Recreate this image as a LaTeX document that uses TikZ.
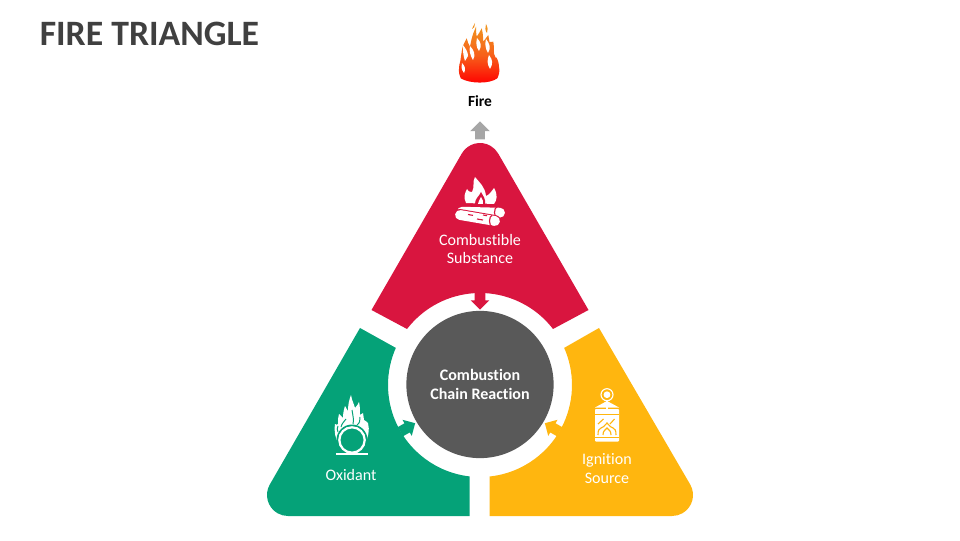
\documentclass[tikz,border=0pt]{standalone}
\usepackage{fontspec}
\setmainfont[Ligatures=NoCommon]{Carlito}
\usetikzlibrary{shapes.arrows}
\definecolor{redpart}{HTML}{D9153F}
\definecolor{greenpart}{HTML}{05A278}
\definecolor{yellowpart}{HTML}{FFB60F}
\definecolor{greypart}{HTML}{595959}
\definecolor{titlegrey}{HTML}{404040}
\definecolor{flametop}{HTML}{F0921E}
\definecolor{flamemid}{HTML}{F7601A}
\tikzset{
	label text/.style={text=white,align=center,inner sep=0pt,font=\fontsize{11.4}{13.5}\selectfont},
	blockarrow/.style={single arrow,draw=none,anchor=tip,inner xsep=0pt,inner ysep=.125cm,minimum height=.425cm,minimum width=.45cm,single arrow head extend=.1cm,single arrow tip angle=90},
}
\begin{document}
\begin{tikzpicture}[x=.025cm,y=.025cm]
	\useasboundingbox (0,0) rectangle (960,540);
	\node[anchor=base west,inner sep=0pt,text=titlegrey,font=\fontsize{25.4}{28}\selectfont\bfseries] (title) at (39.5,494) {FIRE TRIANGLE};
	% the three parts
	\fill[redpart] (371.5,230) -- (461.8,386.5) arc (150:30:21) -- (588.5,230) -- (553,211) arc (37.5:142.5:92) -- cycle;
	\fill[greenpart] (360,212) -- (269.8,55.5) arc (150:270:21) -- (469.5,24) -- (469.5,63.6) arc (263.45:156.2:92) -- cycle;
	\fill[yellowpart] (599,212) -- (690.2,55.5) arc (30:-90:21) -- (489.5,24) -- (489.5,63.5) arc (-84.07:23.8:92) -- cycle;
	\node[circle,fill=greypart,minimum size=3.68cm,inner sep=0pt,text=white,align=center,font=\fontsize{11.4}{13.5}\selectfont\bfseries] (reaction) at (480,155.5) {Combustion\\Chain Reaction};
	% block arrows
	\node[blockarrow,rotate=90,fill=black!35,inner ysep=.1125cm,minimum height=.45cm,minimum width=.475cm,single arrow head extend=.125cm] (firearrow) at (480,419) {};
	\node[blockarrow,rotate=-90,fill=redpart] (redarrow) at (480,230) {};
	\node[blockarrow,rotate=30,fill=greenpart] (greenarrow) at (415.5,117) {};
	\node[blockarrow,rotate=150,fill=yellowpart] (yellowarrow) at (544.5,117) {};
	% labels
	\node[label text] (substance) at (480,291) {Combustible\\Substance};
	\node[label text] (oxidant) at (351,65.5) {Oxidant};
	\node[label text] (source) at (607,71.5) {Ignition\\Source};
	\node[inner sep=0pt,font=\fontsize{11}{12}\selectfont\bfseries] (fire) at (480,439) {Fire};
	% fire on top
	\begin{scope}[shift={(480,485)}]
		\shade[top color=flametop,bottom color=red,middle color=flamemid] (-19.3,-23.3) .. controls (-22,-17) and (-21,-14) .. (-20.7,-10) .. controls (-19,-6) and (-19,4) .. (-16.7,10) -- (-13.3,16.7) .. controls (-13,13) and (-11,11) .. (-10,8.3) .. controls (-9,14) and (-8,18) .. (-6.7,21.7) -- (-4,28.3) .. controls (-4,24) and (-4,22) .. (-3.3,18.3) .. controls (-1,21) and (0,24) .. (1.7,26.7) .. controls (3,22) and (3,18) .. (3.3,13.3) .. controls (5,16) and (7,18) .. (8.3,20) .. controls (9,17) and (9,15) .. (9.5,13) -- (13.3,13.3) .. controls (14,9) and (14,5) .. (14,1.7) .. controls (17,-3) and (19,-7) .. (19,-11.7) .. controls (20,-16) and (19,-20) .. (17.3,-23.3) .. controls (10,-29) and (-10,-29) .. (-19.3,-23.3) -- cycle;
		\fill[flametop] (6,31) .. controls (8,27) and (8,25) .. (7,22) .. controls (5,24) and (5,28) .. (6,31) -- cycle;
		\fill[flametop] (-5,32) .. controls (-6,29) and (-8,28) .. (-8,26) .. controls (-6,26) and (-5,29) .. (-5,32) -- cycle;
		\fill[white] (-12,-1) .. controls (-12,3) and (-14,6) .. (-17,10) .. controls (-17,4) and (-17,0) .. (-15,-6) -- cycle;
		\fill[white] (-7,-5) .. controls (-10,0) and (-11,4) .. (-10,9) .. controls (-6,5) and (-4,0) .. (-7,-5) -- cycle;
		\fill[white] (-1,4) .. controls (-4,8) and (-4,12) .. (-3,17) .. controls (1,13) and (2,9) .. (-1,4) -- cycle;
		\fill[white] (8,2) .. controls (5,7) and (5,11) .. (6,16) .. controls (10,11) and (11,7) .. (8,2) -- cycle;
		\fill[white] (10,-14) .. controls (7,-9) and (7,-5) .. (9,0) .. controls (13,-5) and (13,-9) .. (10,-14) -- cycle;
		\fill[white] (-16,-18) .. controls (-19,-14) and (-19,-11) .. (-18,-8) .. controls (-15,-11) and (-14,-14) .. (-16,-18) -- cycle;
		\fill[white] (16,-3) .. controls (14,-1) and (14,2) .. (15,6) -- (18,0) -- cycle;
	\end{scope}
	% logs and flame
	\begin{scope}[shift={(480,335)}]
		\fill[white] (-14,2) .. controls (-17,8) and (-15,12) .. (-13,16) .. controls (-11,13) and (-10,13) .. (-8,13) .. controls (-5,18) and (-8,23) .. (-5,28) .. controls (0,22) and (5,18) .. (6,9) .. controls (9,10) and (11,13) .. (14,17) .. controls (18,10) and (17,5) .. (14,1) -- cycle;
		\fill[redpart] (-5,1) .. controls (-5,7) and (-1,8) .. (1,13) .. controls (3,9) and (6,6) .. (5,1) -- cycle;
		\fill[white] (-2,1) .. controls (-2,4) and (0,5) .. (1,8) .. controls (2,5) and (4,4) .. (3,1) -- cycle;
		\draw[white,line width=7pt,line cap=round] (-18,-6.7) -- (20,-7.7);
		\draw[redpart,line width=.8pt] (17,-2) arc (90:270:2.5 and 5.5);
		\draw[redpart,line width=8.4pt,line cap=round] (-20,-10) -- (15,-16);
		\draw[white,line width=7pt,line cap=round] (-20,-10) -- (15,-16);
		\draw[redpart,line width=.8pt] (12,-10.5) arc (90:270:2.5 and 5.5);
		\draw[redpart,line width=.8pt] (-12,-9.5) -- (-7,-10.4);
		\draw[redpart,line width=.8pt] (-3,-14) -- (3,-15);
		\draw[redpart,line width=.8pt] (3,-10) -- (7,-10.7);
	\end{scope}
	% oxidant ring
	\begin{scope}[shift={(352,100)}]
		\fill[white] (-13,-4) .. controls (-17,2) and (-18,8) .. (-17,16) .. controls (-16,15) and (-15,15) .. (-14,16) .. controls (-14,20) and (-14,23) .. (-13,26) .. controls (-11,24) and (-10,23) .. (-9,22) .. controls (-9,27) and (-8,31) .. (-7,34) .. controls (-5,31) and (-5,30) .. (-4,29) .. controls (-4,35) and (-3,40) .. (-1,45) .. controls (0,39) and (2,36) .. (3,32) .. controls (5,34) and (6,36) .. (7,38) .. controls (8,34) and (8,30) .. (8,25) -- (11,27) .. controls (11,25) and (12,22) .. (12,20) .. controls (14,19) and (15,18) .. (16,17) .. controls (18,10) and (16,2) .. (13,-4) -- cycle;
		\draw[greenpart,line width=.7pt] (-11,13) .. controls (-10,17) and (-8,18) .. (-6,21);
		\draw[greenpart,line width=.7pt] (1,16) .. controls (2,20) and (1,24) .. (0,30);
		\draw[greenpart,line width=.7pt] (5,15) .. controls (8,17) and (8,20) .. (8,23);
		\draw[greenpart,line width=.7pt] (-14,8) .. controls (-15,10) and (-15,12) .. (-14,14);
		\fill[greenpart] (0,0) circle (15.5);
		\draw[white,line width=1.6pt] (0,0) circle (12.7);
		\fill[white] (-16,-15) rectangle (15.5,-12.8);
	\end{scope}
	% lantern
	\begin{scope}[shift={(607,120)}]
		\draw[white,line width=.8pt] (0,25.3) circle (6);
		\fill[white] (0,25.3) circle (3.4);
		\fill[white] (-1,11) rectangle (1,20);
		\fill[white] (-12,12.5) -- (0,19) -- (12,12.5) -- cycle;
		\fill[white,rounded corners=.7pt] (-12,-21.5) rectangle (12,11);
		\draw[yellowpart,line width=.7pt] (-12,6) -- (12,6);
		\draw[yellowpart,line width=.7pt] (-12,-17) -- (12,-17);
		\draw[yellowpart,line width=.8pt] (-9,-4) -- (-3.5,1);
		\draw[yellowpart,line width=.8pt] (3,-4) -- (7.5,1);
		\draw[yellowpart,line width=.8pt] (-9,-15) .. controls (-9,-10) and (-8,-9) .. (-6,-8) .. controls (-4,-8) and (-3,-6) .. (0,-3) .. controls (3,-6) and (4,-8) .. (6,-8) .. controls (8,-9) and (9,-10) .. (9,-15);
		\draw[yellowpart,line width=.8pt] (-4,-15) .. controls (-4,-11) and (-2,-10) .. (0,-8) .. controls (2,-10) and (4,-11) .. (4,-15);
	\end{scope}
\end{tikzpicture}
\end{document}
